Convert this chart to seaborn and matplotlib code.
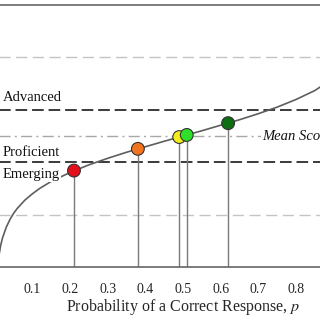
import matplotlib
matplotlib.use("Agg")
import matplotlib.pyplot as plt
import seaborn as sns
import pandas as pd

sns.set_style("white")
plt.rcParams['font.family'] = ['Liberation Serif', 'DejaVu Serif']
plt.rcParams['mathtext.fontset'] = 'stix'

# curve: ability (logits) vs probability of a correct response
curve_p = [0.004, 0.006, 0.008, 0.01, 0.015, 0.02, 0.03, 0.04, 0.05, 0.06, 0.08, 0.1,
           0.12, 0.15, 0.2, 0.25, 0.3, 0.35, 0.4, 0.45, 0.5, 0.55, 0.6, 0.65,
           0.7, 0.75, 0.8, 0.85, 0.9, 0.95]
curve_theta = [-5.52, -5.11, -4.82, -4.60, -4.18, -3.89, -3.48, -3.18, -2.94, -2.75, -2.44, -2.20,
               -1.99, -1.73, -1.39, -1.10, -0.85, -0.62, -0.41, -0.20, 0.0, 0.20, 0.41, 0.62,
               0.85, 1.10, 1.39, 1.73, 2.20, 2.94]

# students
point_p = [0.21, 0.38, 0.49, 0.51, 0.62]
point_theta = [-1.32, -0.49, -0.04, 0.04, 0.49]
point_colors = ["#e3101c", "#f2741e", "#f5ec1e", "#2fe02a", "#0e6e12"]

# reference lines
cut_levels = [1.0, -1.0]
grid_levels = [3.0, -3.0]
mean_level = 0.0
level_labels = ["Advanced", "Proficient", "Emerging"]
level_label_y = [1.48, -0.63, -1.48]

xticks = [0.0, 0.1, 0.2, 0.3, 0.4, 0.5, 0.6, 0.7, 0.8, 0.9, 1.0]
xticklabels = ["0", "0.1", "0.2", "0.3", "0.4", "0.5", "0.6", "0.7", "0.8", "0.9", "1"]

fig = plt.figure(figsize=(3.2, 3.2), dpi=100)
ax = fig.add_axes([-5/320, 53/320, 376/320, 262/320])
ax.set_xlim(0, 1)
ax.set_ylim(-5, 5)

for y in grid_levels:
    ax.axhline(y, color="#c4c4c4", lw=1.0, ls=(0, (8, 4)), zorder=1)
for y in cut_levels:
    ax.axhline(y, color="#3a3a3a", lw=1.4, ls=(0, (6, 2.5)), zorder=1)
ax.axhline(mean_level, color="#a8a8a8", lw=1.0, ls=(0, (8, 3, 1.5, 3)), zorder=1)

df_curve = pd.DataFrame({"p": curve_p, "theta": curve_theta})
sns.lineplot(data=df_curve, x="p", y="theta", color="#5e5e5e", lw=1.2, ax=ax,
             sort=False, zorder=3)

for p, t in zip(point_p, point_theta):
    ax.plot([p, p], [-5, t], color="#7a7a7a", lw=1.0, zorder=2)

df_pts = pd.DataFrame({"p": point_p, "theta": point_theta, "c": point_colors})
sns.scatterplot(data=df_pts, x="p", y="theta", hue="c", palette=dict(zip(point_colors, point_colors)),
                s=85, edgecolor="#333333", linewidth=0.8, legend=False, ax=ax, zorder=5)

for lab, y in zip(level_labels, level_label_y):
    ax.text(0.021, y, lab, fontsize=10.5, va="center", ha="left", color="#111111",
            bbox=dict(facecolor="white", edgecolor="none", pad=0.5), zorder=4)

ax.text(0.71, mean_level, "Mean Score", fontsize=10.5, style="italic", va="center", ha="left",
        color="#111111", bbox=dict(facecolor="white", edgecolor="none", pad=1.0), zorder=4)

ax.set_xticks(xticks)
ax.set_xticklabels(xticklabels, fontsize=10)
ax.set_yticks([])
ax.tick_params(axis="x", direction="out", length=4, width=1, color="#555555", pad=7.5)
for s in ["top", "bottom", "left", "right"]:
    ax.spines[s].set_color("#666666")
    ax.spines[s].set_linewidth(1.2)
ax.set_xlabel("Probability of a Correct Response, $p$", fontsize=11.5, labelpad=1)
ax.set_ylabel("")

fig.savefig("out.png", dpi=100)
